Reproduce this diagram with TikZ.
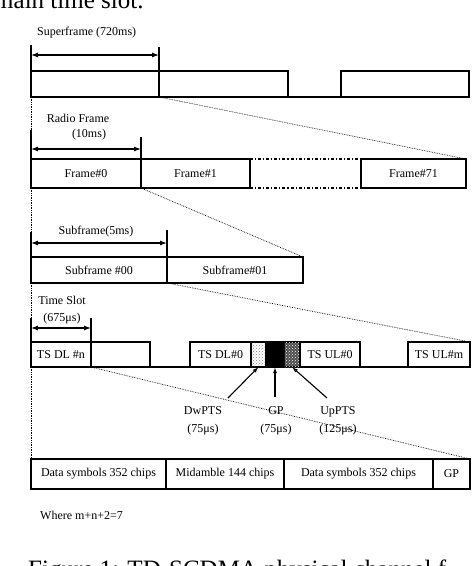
\documentclass[tikz,border=0pt]{standalone}
\usepackage{fontspec}
\setmainfont{Liberation Serif}
\usetikzlibrary{arrows.meta,patterns}

\begin{document}
\begin{tikzpicture}[x=1pt,y=-1pt,
		cell/.style={draw,line width=1.1pt,anchor=north west,inner sep=0pt,outer sep=0pt,font=\fontsize{12}{13}\selectfont},
		dimline/.style={{Latex[length=7pt,width=5pt]}-{Latex[length=7pt,width=5pt]},line width=1.1pt},
		tick/.style={line width=1.1pt},
		zoomline/.style={densely dotted,line width=0.7pt},
		ptsarrow/.style={-{Latex[length=6pt,width=4pt]},line width=1.1pt},
		lbl/.style={font=\fontsize{12}{13}\selectfont,inner sep=0pt}]
		\useasboundingbox (0,0) rectangle (474,566);
		\node[anchor=base west,inner sep=0pt,font=\fontsize{25}{30}\selectfont] (toptext) at (-6,8) {main time slot.};
		% superframe
		\node[cell,minimum width=128,minimum height=26] (sf0) at (31,71) {};
		\node[cell,minimum width=129,minimum height=26] (sf1) at (159,71) {};
		\node[cell,minimum width=128,minimum height=26] (sf2) at (341,71) {};
		\draw[tick] (sf1.south east) -- (sf2.south west);
		\draw[tick] (sf0.north west) -- ++(0,-26);
		\draw[tick] (sf0.north east) -- ++(0,-24);
		\coordinate (sfa) at (31,55);
		\coordinate (sfb) at (159,55);
		\draw[dimline] (sfa) -- (sfb);
		\node[lbl,anchor=west] (sflab) at (37,33) {Superframe (720ms)};
		% radio frame
		\node[cell,minimum width=110,minimum height=29] (fr0) at (31,159) {Frame\#0};
		\node[cell,minimum width=109,minimum height=29] (fr1) at (141,159) {Frame\#1};
		\node[cell,minimum width=105,minimum height=29] (fr71) at (361,159) {Frame\#71};
		\draw[tick,dashdotted] (fr1.north east) -- (fr71.north west);
		\draw[tick,dashdotted] (fr1.south east) -- (fr71.south west);
		\draw[tick] (fr0.north west) -- ++(0,-29);
		\draw[tick] (fr0.north east) -- ++(0,-22);
		\coordinate (rfa) at (31,149);
		\coordinate (rfb) at (141,149);
		\draw[dimline] (rfa) -- (rfb);
		\node[lbl] (rflab) at (78,118) {Radio Frame};
		\node[lbl] (rfdur) at (89,135) {(10ms)};
		% subframe
		\node[cell,minimum width=136,minimum height=26] (sub0) at (31,257) {Subframe \#00};
		\node[cell,minimum width=136,minimum height=26] (sub1) at (167,257) {Subframe\#01};
		\draw[tick] (sub0.north west) -- ++(0,-25);
		\draw[tick] (sub0.north east) -- ++(0,-27);
		\coordinate (sba) at (31,243);
		\coordinate (sbb) at (167,243);
		\draw[dimline] (sba) -- (sbb);
		\node[lbl] (sblab) at (96,232) {Subframe(5ms)};
		% time slots
		\node[cell,minimum width=60,minimum height=25] (tsn) at (31,342) {TS DL \#n};
		\node[cell,minimum width=59,minimum height=25] (tsb) at (91,342) {};
		\node[cell,minimum width=61,minimum height=25] (ts0) at (190,342) {TS DL\#0};
		\node[cell,minimum width=15,minimum height=25,pattern=crosshatch dots,pattern color=gray] (dw) at (251,342) {};
		\node[cell,minimum width=18,minimum height=25,fill=black] (gp) at (266,342) {};
		\node[cell,minimum width=16,minimum height=25,fill=black!70,postaction={pattern=crosshatch dots,pattern color=white}] (up) at (284,342) {};
		\node[cell,minimum width=60,minimum height=25] (ul0) at (300,342) {TS UL\#0};
		\node[cell,minimum width=62,minimum height=25] (ulm) at (408,342) {TS UL\#m};
		\draw[tick] (tsb.south east) -- (ts0.south west);
		\draw[tick] (ul0.south east) -- (ulm.south west);
		\draw[tick] (tsn.north west) -- ++(0,-24);
		\draw[tick] (tsn.north east) -- ++(0,-24);
		\coordinate (tsa) at (31,328);
		\coordinate (tsbb) at (91,328);
		\draw[dimline] (tsa) -- (tsbb);
		\node[lbl] (tslab) at (62,300) {Time Slot};
		\node[lbl] (tsdur) at (62,319) {(675μs)};
		% special slots
		\node[lbl,align=center,font=\fontsize{12}{18}\selectfont] (dwlab) at (203,421) {DwPTS\\(75μs)};
		\node[lbl,align=center,font=\fontsize{12}{18}\selectfont] (gplab) at (276,421) {GP\\(75μs)};
		\node[lbl,align=center,font=\fontsize{12}{18}\selectfont] (uplab) at (338,421) {UpPTS\\(125μs)};
		\coordinate (dwtail) at (228,398);
		\coordinate (gptail) at (275,397);
		\coordinate (uptail) at (327,398);
		\draw[ptsarrow] (dwtail) -- (dw.south);
		\draw[ptsarrow] (gptail) -- (gp.south);
		\draw[ptsarrow] (uptail) -- (up.south);
		% burst
		\node[cell,minimum width=135,minimum height=30] (d1) at (31,459) {Data symbols 352 chips};
		\node[cell,minimum width=118,minimum height=30] (mid) at (166,459) {Midamble 144 chips};
		\node[cell,minimum width=149,minimum height=30] (d2) at (284,459) {Data symbols 352 chips};
		\node[cell,minimum width=37,minimum height=30] (gpb) at (433,459) {GP};
		% zoom lines
		\draw[zoomline] (sf0.south east) -- (fr71.north east);
		\draw[zoomline] (fr0.south east) -- (sub1.north east);
		\draw[zoomline] (sub0.south east) -- (ulm.north east);
		\draw[zoomline] (tsn.south east) -- (gpb.north east);
		\draw[zoomline] (sf0.south west) -- (fr0.north west);
		\draw[zoomline] (fr0.south west) -- (sub0.north west);
		\draw[zoomline] (sub0.south west) -- (tsn.north west);
		\draw[zoomline] (tsn.south west) -- (d1.north west);
		\node[anchor=west,inner sep=0pt,font=\fontsize{12}{13}\selectfont] (note) at (40,515) {Where m+n+2=7};
		\node[anchor=base west,inner sep=0pt,font=\fontsize{25}{30}\selectfont] (caption) at (28,577) {Figure 1: TD-SCDMA physical channel f};
	\end{tikzpicture}
\end{document}
